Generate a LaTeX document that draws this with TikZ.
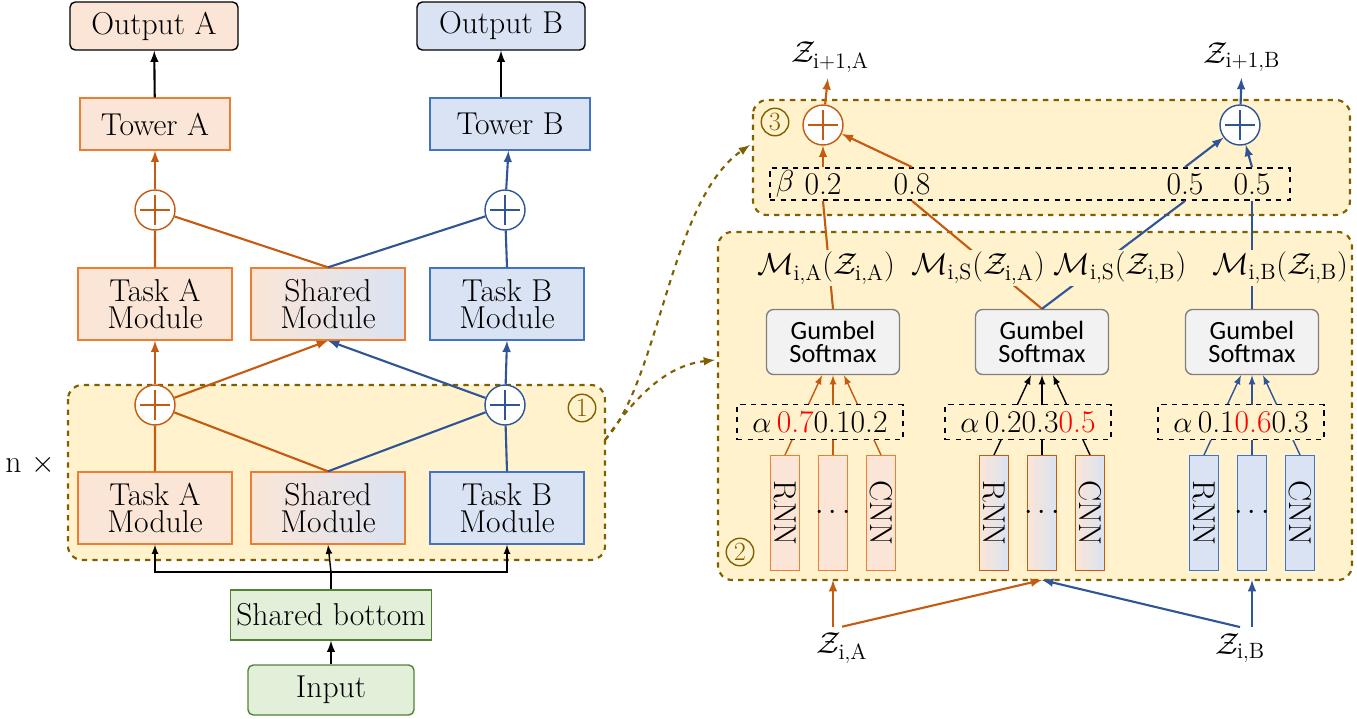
\documentclass[tikz,border=0pt]{standalone}
\usepackage{fontspec}
\newfontfamily\gfont{Carlito}
\usetikzlibrary{shapes,arrows,positioning}
\definecolor{orline}{HTML}{C55A11}
\definecolor{orfill}{HTML}{FBE5D6}
\definecolor{orbord}{HTML}{ED7D31}
\definecolor{blline}{HTML}{2F5597}
\definecolor{blfill}{HTML}{DAE3F3}
\definecolor{blbord}{HTML}{4472C4}
\definecolor{grfill}{HTML}{E2F0D9}
\definecolor{grbord}{HTML}{548235}
\definecolor{yfill}{HTML}{FFF2CC}
\definecolor{olive}{HTML}{7F6000}
\tikzstyle{taska}  = [rectangle, draw=orbord, fill=orfill, thick, text centered, align=center, minimum width=3.08cm, minimum height=1.44cm]
\tikzstyle{taskb}  = [rectangle, draw=blbord, fill=blfill, thick, text centered, align=center, minimum width=3.08cm, minimum height=1.44cm]
\tikzstyle{shared} = [rectangle, draw=orbord, left color=orfill, right color=blfill, thick, align=center, minimum width=3.08cm, minimum height=1.44cm]
\tikzstyle{green}  = [rectangle, draw=grbord, fill=grfill, thick, minimum width=3.5cm, minimum height=1cm]
\tikzstyle{plus}   = [circle, draw, thick, fill=white, minimum size=0.8cm, inner sep=0pt,
                      path picture={\draw[thick] ([xshift=-0.3cm]path picture bounding box.center) -- ([xshift=0.3cm]path picture bounding box.center)
                                                 ([yshift=-0.3cm]path picture bounding box.center) -- ([yshift=0.3cm]path picture bounding box.center);}]
\tikzstyle{stagenum} = [circle, draw=olive, thick, text=olive, inner sep=1pt, minimum size=0.55cm, font=\fontsize{15}{16}\selectfont]
\tikzstyle{gumbel} = [rectangle, draw=gray, fill=gray!10, rounded corners, thick, align=center, font=\gfont\fontsize{15}{16}\selectfont, minimum width=2.66cm, minimum height=1.3cm]
\tikzstyle{bar}    = [rectangle, thick, minimum width=2.3cm, minimum height=0.58cm, inner sep=0pt, anchor=west, rotate=-90]
\tikzstyle{weights}= [rectangle, draw, dashed, thick, fill=yfill, minimum height=0.7cm, inner sep=1pt]
\tikzstyle{block}  = [draw=olive, dashed, very thick, fill=yfill, rounded corners=8pt]
\tikzstyle{flow}   = [draw, very thick]

\begin{document}
\begin{tikzpicture}[x=0.02cm, y=-0.02cm, font=\fontsize{18}{19}\selectfont, >=latex]
\useasboundingbox (0,0) rectangle (1357,718);
% left part
\path[block] (68,385) rectangle (605,560);
\node[stagenum] at (582,408) {1};
\node at (30,465) {n $\times$};

\node[rectangle, draw, fill=orfill, rounded corners=3pt, thick, minimum width=3.36cm, minimum height=0.96cm] (outa) at (154,26) {Output A};
\node[rectangle, draw, fill=blfill, rounded corners=3pt, thick, minimum width=3.36cm, minimum height=0.96cm] (outb) at (501,26) {Output B};
\node[taska, minimum width=3cm, minimum height=1.04cm] (towa) at (155,124) {Tower A};
\node[taskb, minimum width=3.2cm, minimum height=1.04cm] (towb) at (510,124) {Tower B};
\node[plus, draw=orline] (pa2) at (155,210) {};
\node[plus, draw=blline] (pb2) at (505,210) {};
\node[taska] (ta2) at (155,304) {Task A\\[-4pt]Module};
\node[shared] (sh2) at (328,304) {Shared\\[-4pt]Module};
\node[taskb] (tb2) at (507,304) {Task B\\[-4pt]Module};
\node[plus, draw=orline] (pa1) at (155,405) {};
\node[plus, draw=blline] (pb1) at (505,405) {};
\node[taska] (ta1) at (155,508) {Task A\\[-4pt]Module};
\node[shared] (sh1) at (328,508) {Shared\\[-4pt]Module};
\node[taskb] (tb1) at (507,508) {Task B\\[-4pt]Module};
\node[green, minimum width=3.74cm] (bottom) at (331,615) {Shared bottom};
\node[green, rounded corners=3pt, minimum width=3.32cm] (input) at (331,690) {Input};

\draw[flow, ->] (input) -- (bottom);
\coordinate (split) at (331,572);
\draw[thick] (bottom.north) -- (split);
\draw[thick, ->] (split) -| (ta1.south);
\draw[thick, ->] (split) -| (tb1.south);
\draw[thick, ->] (split) -- (sh1.south);
\path[flow, orline] (ta1.north) -- (pa1) (sh1.north) -- (pa1);
\path[flow, blline] (tb1.north) -- (pb1) (sh1.north) -- (pb1);
\path[flow, orline, ->] (pa1) -- (ta2.south);
\path[flow, orline, ->] (pa1) -- (sh2.south);
\path[flow, blline, ->] (pb1) -- (tb2.south);
\path[flow, blline, ->] (pb1) -- (sh2.south);
\path[flow, orline] (ta2.north) -- (pa2) (sh2.north) -- (pa2);
\path[flow, blline] (tb2.north) -- (pb2) (sh2.north) -- (pb2);
\path[flow, orline, ->] (pa2) -- (towa);
\path[flow, blline, ->] (pb2) -- (towb);
\draw[flow, ->] (towa) -- (outa);
\draw[flow, ->] (towb.north -| outb) -- (outb);

% right part
\path[block] (753,100) rectangle (1350,215);
\path[block] (718,232) rectangle (1352,580);
\node[stagenum] at (775,122) {3};
\node[stagenum] at (740,552) {2};
\draw[olive, very thick, dashed, ->] (605,440) .. controls (660,380) and (670,200) .. (750,145);
\draw[olive, very thick, dashed, ->] (605,440) .. controls (640,390) and (670,365) .. (715,360);

\node[plus, draw=orline] (sa) at (823,125) {};
\node[plus, draw=blline] (sb) at (1240,125) {};
\node (za1) at (830,57) {$\mathcal{Z}_{\mathrm{i+1,A}}$};
\node (zb1) at (1242,57) {$\mathcal{Z}_{\mathrm{i+1,B}}$};
\node[weights, minimum width=10.4cm, minimum height=0.64cm] (beta) at (1030,184) {};
\node at (785,184) {$\beta$};
\node (b1) at (823,184) {0.2};
\node (b2) at (912,184) {0.8};
\node (b3) at (1185,184) {0.5};
\node (b4) at (1252,184) {0.5};

\node[gumbel] (g1) at (833,342) {Gumbel\\[-3pt]Softmax};
\node[gumbel] (g2) at (1042,342) {Gumbel\\[-3pt]Softmax};
\node[gumbel] (g3) at (1252,342) {Gumbel\\[-3pt]Softmax};

\path[flow, orline] (g1.north) -- (b1.south);
\path[flow, orline] (g2.north) -- (b2.south);
\path[flow, blline] (g2.north) -- (b3.south);
\path[flow, blline] (g3.north) -- (b4.south);
\node[fill=yfill, inner sep=1pt] at (826,268) {$\mathcal{M}_{\mathrm{i,A}}(\mathcal{Z}_{\mathrm{i,A}})$};
\node[fill=yfill, inner sep=1pt] at (978,268) {$\mathcal{M}_{\mathrm{i,S}}(\mathcal{Z}_{\mathrm{i,A}})$};
\node[fill=yfill, inner sep=1pt] at (1120,268) {$\mathcal{M}_{\mathrm{i,S}}(\mathcal{Z}_{\mathrm{i,B}})$};
\node[fill=yfill, inner sep=1pt] at (1280,268) {$\mathcal{M}_{\mathrm{i,B}}(\mathcal{Z}_{\mathrm{i,B}})$};
\path[flow, orline, ->] (b1.north) -- (sa);
\path[flow, orline, ->] (b2.north) -- (sa);
\path[flow, blline, ->] (b3.north) -- (sb);
\path[flow, blline, ->] (b4.north) -- (sb);
\path[flow, orline, ->] (sa) -- (za1);
\path[flow, blline, ->] (sb) -- (zb1);

% candidate operators
\foreach \g/\x/\col in {1/833/orline, 2/1042/black, 3/1252/blline} {
  \foreach \i/\dx in {1/-48, 2/0, 3/48} {
    \coordinate (top\g\i) at (\x+\dx,455);
    \draw[thick, \col, ->] (top\g\i) -- ([xshift=(\i-2)*0.22cm]g\g.south);
  }
}
\node[weights, minimum width=3.32cm] (a1) at (820,422) {$\alpha$\,{\color{red}0.7}0.10.2};
\node[weights, minimum width=3.32cm] (a2) at (1028,422) {$\alpha$\,0.20.3{\color{red}0.5}};
\node[weights, minimum width=3.32cm] (a3) at (1241,422) {$\alpha$\,0.1{\color{red}0.6}0.3};

\foreach \i/\dx/\txt in {1/-48/RNN, 2/0/{}, 3/48/CNN} {
  \node[bar, draw=orbord, fill=orfill] (r1\i) at (833+\dx,455) {\txt};
  \node[bar, draw=blbord, fill=blfill] (r3\i) at (1252+\dx,455) {\txt};
  \node[bar, draw=orline, left color=orfill, right color=blfill] (r2\i) at (1042+\dx,455) {\txt};
}
\foreach \g in {1,2,3} \node[font=\bfseries\fontsize{18}{19}\selectfont] at (r\g2) {$\cdots$};

\node (zia) at (842,648) {$\mathcal{Z}_{\mathrm{i,A}}$};
\node (zib) at (1240,648) {$\mathcal{Z}_{\mathrm{i,B}}$};
\coordinate (in1) at (833,580);
\coordinate (in2) at (1042,580);
\coordinate (in3) at (1252,580);
\path[flow, orline, ->] (zia.north -| in1) -- (in1);
\path[flow, orline, ->] (zia.north) -- (in2);
\path[flow, blline, ->] (zib.north) -- (in2);
\path[flow, blline, ->] (zib.north -| in3) -- (in3);
\end{tikzpicture}
\end{document}
